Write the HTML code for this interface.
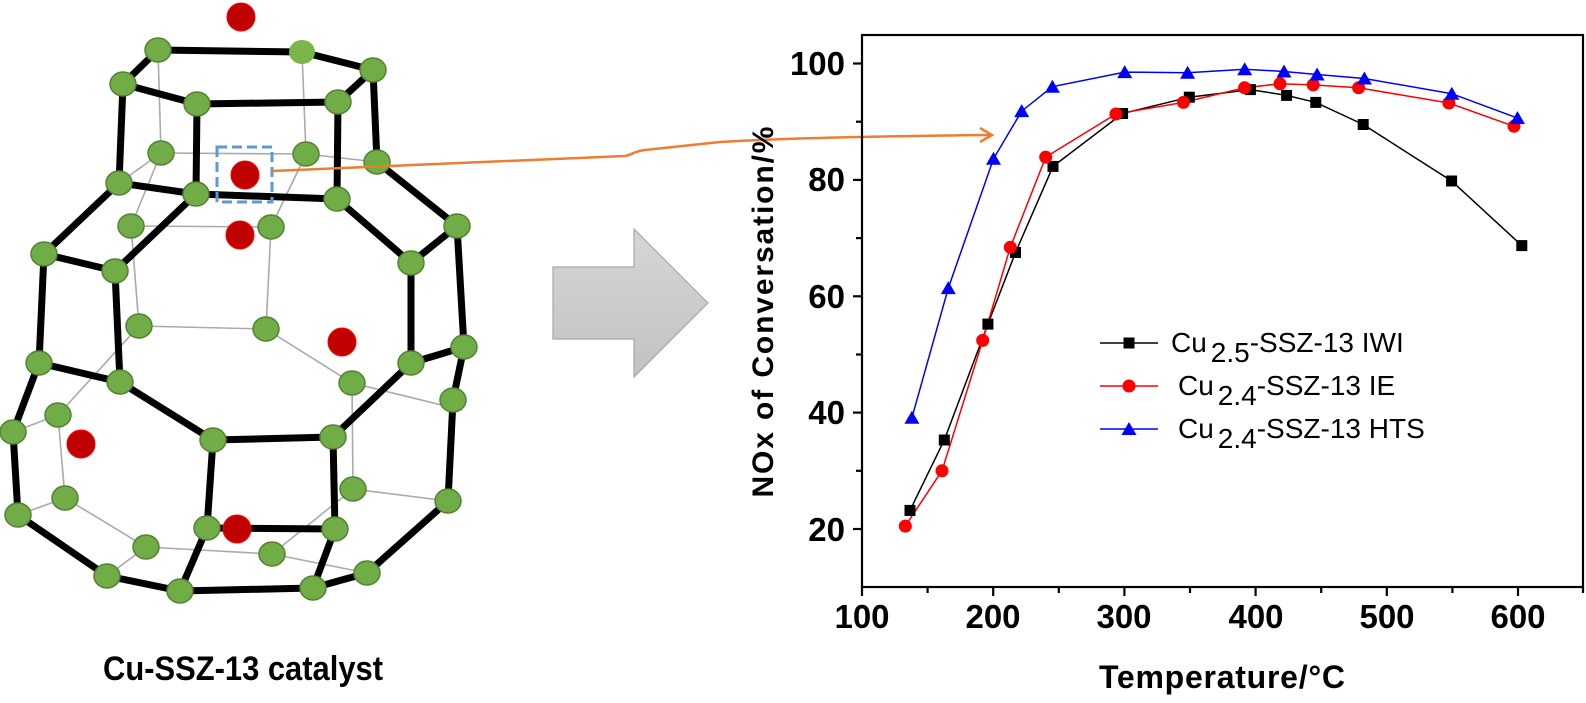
<!DOCTYPE html>
<html><head><meta charset="utf-8"><style>html,body{margin:0;padding:0;background:#fff}svg{display:block}</style></head>
<body>
<svg width="1586" height="703" viewBox="0 0 1586 703" xmlns="http://www.w3.org/2000/svg">
<defs>
<linearGradient id="ga" x1="0" y1="0" x2="0" y2="1"><stop offset="0" stop-color="#d6d6d6"/><stop offset="1" stop-color="#c2c2c2"/></linearGradient>
</defs>
<!-- thin gray edges -->
<g stroke="#aaa" stroke-width="1.6" fill="none">
<line x1="158" y1="50" x2="161" y2="153"/><line x1="302" y1="52" x2="306" y2="154"/>
<line x1="161" y1="153" x2="306" y2="154"/><line x1="161" y1="153" x2="119" y2="183"/>
<line x1="306" y1="154" x2="377" y2="162"/><line x1="161" y1="153" x2="131" y2="226"/>
<line x1="306" y1="154" x2="271" y2="227"/><line x1="131" y1="226" x2="271" y2="227"/>
<line x1="131" y1="226" x2="139" y2="326"/><line x1="271" y1="227" x2="266" y2="329"/>
<line x1="139" y1="326" x2="266" y2="329"/><line x1="266" y1="329" x2="352" y2="383"/>
<line x1="139" y1="326" x2="58" y2="415"/><line x1="58" y1="415" x2="13" y2="432"/>
<line x1="58" y1="415" x2="65" y2="498"/><line x1="65" y1="498" x2="18" y2="515"/>
<line x1="65" y1="498" x2="146" y2="547"/><line x1="146" y1="547" x2="272" y2="554"/>
<line x1="146" y1="547" x2="107" y2="576"/><line x1="272" y1="554" x2="353" y2="489"/>
<line x1="272" y1="554" x2="367" y2="573"/><line x1="353" y1="489" x2="448" y2="501"/>
<line x1="353" y1="489" x2="352" y2="383"/><line x1="352" y1="383" x2="462" y2="410"/>
</g>
<!-- thick black edges -->
<g stroke="#000" stroke-width="7" stroke-linecap="round" fill="none">
<line x1="158" y1="50" x2="302" y2="52"/><line x1="158" y1="50" x2="123" y2="84"/>
<line x1="302" y1="52" x2="373" y2="70"/><line x1="123" y1="84" x2="197" y2="104"/>
<line x1="197" y1="104" x2="338" y2="102"/><line x1="338" y1="102" x2="373" y2="70"/>
<line x1="373" y1="70" x2="377" y2="162"/><line x1="123" y1="84" x2="119" y2="183"/>
<line x1="197" y1="104" x2="196" y2="194"/><line x1="338" y1="102" x2="337" y2="199"/>
<line x1="119" y1="183" x2="196" y2="194"/><line x1="196" y1="194" x2="337" y2="199"/>
<line x1="119" y1="183" x2="44" y2="254"/><line x1="196" y1="194" x2="115" y2="271"/>
<line x1="44" y1="254" x2="115" y2="271"/><line x1="44" y1="254" x2="39" y2="363"/>
<line x1="115" y1="271" x2="120" y2="382"/><line x1="39" y1="363" x2="120" y2="382"/>
<line x1="337" y1="199" x2="411" y2="263"/><line x1="377" y1="162" x2="457" y2="226"/>
<line x1="411" y1="263" x2="457" y2="226"/><line x1="411" y1="263" x2="411" y2="363"/>
<line x1="457" y1="226" x2="464" y2="347"/><line x1="411" y1="363" x2="464" y2="347"/>
<line x1="120" y1="382" x2="213" y2="440"/><line x1="213" y1="440" x2="333" y2="437"/>
<line x1="333" y1="437" x2="411" y2="363"/><line x1="39" y1="363" x2="13" y2="432"/>
<line x1="13" y1="432" x2="18" y2="515"/><line x1="18" y1="515" x2="107" y2="576"/>
<line x1="107" y1="576" x2="180" y2="591"/><line x1="180" y1="591" x2="313" y2="588"/>
<line x1="313" y1="588" x2="367" y2="573"/><line x1="367" y1="573" x2="448" y2="501"/>
<line x1="448" y1="501" x2="453" y2="400"/><line x1="453" y1="400" x2="464" y2="347"/>
<line x1="213" y1="440" x2="207" y2="528"/><line x1="333" y1="437" x2="335" y2="529"/>
<line x1="207" y1="528" x2="335" y2="529"/><line x1="207" y1="528" x2="180" y2="591"/>
<line x1="335" y1="529" x2="313" y2="588"/>
</g>
<!-- nodes -->
<g fill="#70ad47" stroke="#548235" stroke-width="1.5">
<ellipse cx="158" cy="50" rx="13" ry="12"/><ellipse cx="302" cy="52" rx="13" ry="12" fill="#7ab648" stroke="none"/>
<ellipse cx="373" cy="70" rx="13" ry="12"/><ellipse cx="123" cy="84" rx="13" ry="12"/>
<ellipse cx="197" cy="104" rx="13" ry="12"/><ellipse cx="338" cy="102" rx="13" ry="12"/>
<ellipse cx="161" cy="153" rx="13" ry="12"/><ellipse cx="306" cy="154" rx="13" ry="12"/>
<ellipse cx="377" cy="162" rx="13" ry="12"/><ellipse cx="119" cy="183" rx="13" ry="12"/>
<ellipse cx="196" cy="194" rx="13" ry="12"/><ellipse cx="337" cy="199" rx="13" ry="12"/>
<ellipse cx="131" cy="226" rx="13" ry="12"/><ellipse cx="271" cy="227" rx="13" ry="12"/>
<ellipse cx="44" cy="254" rx="13" ry="12"/><ellipse cx="457" cy="226" rx="13" ry="12"/>
<ellipse cx="115" cy="271" rx="13" ry="12"/><ellipse cx="411" cy="263" rx="13" ry="12"/>
<ellipse cx="139" cy="326" rx="13" ry="12"/><ellipse cx="266" cy="329" rx="13" ry="12"/>
<ellipse cx="39" cy="363" rx="13" ry="12"/><ellipse cx="120" cy="382" rx="13" ry="12"/>
<ellipse cx="411" cy="363" rx="13" ry="12"/><ellipse cx="464" cy="347" rx="13" ry="12"/>
<ellipse cx="352" cy="383" rx="13" ry="12"/><ellipse cx="453" cy="400" rx="13" ry="12"/>
<ellipse cx="58" cy="415" rx="13" ry="12"/><ellipse cx="13" cy="432" rx="13" ry="12"/>
<ellipse cx="213" cy="440" rx="13" ry="12"/><ellipse cx="333" cy="437" rx="13" ry="12"/>
<ellipse cx="65" cy="498" rx="13" ry="12"/><ellipse cx="353" cy="489" rx="13" ry="12"/>
<ellipse cx="18" cy="515" rx="13" ry="12"/><ellipse cx="448" cy="501" rx="13" ry="12"/>
<ellipse cx="207" cy="528" rx="13" ry="12"/><ellipse cx="335" cy="529" rx="13" ry="12"/>
<ellipse cx="146" cy="547" rx="13" ry="12"/><ellipse cx="272" cy="554" rx="13" ry="12"/>
<ellipse cx="107" cy="576" rx="13" ry="12"/><ellipse cx="367" cy="573" rx="13" ry="12"/>
<ellipse cx="180" cy="591" rx="13" ry="12"/><ellipse cx="313" cy="588" rx="13" ry="12"/>
</g>
<g fill="#c00000" stroke="#ff0000" stroke-width="1">
<ellipse cx="241" cy="17" rx="14" ry="14"/><ellipse cx="245" cy="175" rx="14" ry="14"/>
<ellipse cx="240" cy="235" rx="14" ry="14"/><ellipse cx="342" cy="342" rx="14" ry="14"/>
<ellipse cx="81" cy="444" rx="14" ry="14"/><ellipse cx="237" cy="529" rx="14" ry="14"/>
</g>
<rect x="217" y="147" width="55" height="55" fill="none" stroke="#5b9bd5" stroke-width="3" stroke-dasharray="10,5"/>
<text x="103" y="680" font-family="Liberation Sans, sans-serif" font-weight="bold" font-size="34" textLength="280" lengthAdjust="spacingAndGlyphs">Cu-SSZ-13 catalyst</text>
<!-- gray arrow -->
<path d="M553,267 L634,267 L634,229 L708,303 L634,377 L634,339 L553,339 Z" fill="url(#ga)" stroke="#a8a8a8" stroke-width="1.2"/>
<!-- orange arrow -->
<path d="M272,171 L625,156 C632,155 634,151 645,150 L720,142 Q800,137 990,135" fill="none" stroke="#ed7d31" stroke-width="2.5"/>
<path d="M980,128 L992,135 L980,142" fill="none" stroke="#ed7d31" stroke-width="2.5"/>
<!-- chart axes -->
<g stroke="#000" stroke-width="2.2" fill="none">
<rect x="862" y="35" width="721" height="552"/>
<line x1="853" y1="63.5" x2="862" y2="63.5"/><line x1="853" y1="179.9" x2="862" y2="179.9"/>
<line x1="853" y1="296.3" x2="862" y2="296.3"/><line x1="853" y1="412.6" x2="862" y2="412.6"/>
<line x1="853" y1="529" x2="862" y2="529"/>
<line x1="856" y1="121.7" x2="862" y2="121.7"/><line x1="856" y1="238.1" x2="862" y2="238.1"/>
<line x1="856" y1="354.5" x2="862" y2="354.5"/><line x1="856" y1="470.8" x2="862" y2="470.8"/>
<line x1="862" y1="587" x2="862" y2="596"/><line x1="993.2" y1="587" x2="993.2" y2="596"/>
<line x1="1124.4" y1="587" x2="1124.4" y2="596"/><line x1="1255.6" y1="587" x2="1255.6" y2="596"/>
<line x1="1386.8" y1="587" x2="1386.8" y2="596"/><line x1="1518" y1="587" x2="1518" y2="596"/>
<line x1="927.6" y1="587" x2="927.6" y2="593"/><line x1="1058.8" y1="587" x2="1058.8" y2="593"/>
<line x1="1190" y1="587" x2="1190" y2="593"/><line x1="1321.2" y1="587" x2="1321.2" y2="593"/>
<line x1="1452.4" y1="587" x2="1452.4" y2="593"/><line x1="1583" y1="587" x2="1583" y2="593"/>
</g>
<g font-family="Liberation Sans, sans-serif" font-weight="bold" font-size="33" fill="#000">
<text x="845" y="75" text-anchor="end">100</text><text x="845" y="191" text-anchor="end">80</text>
<text x="845" y="308" text-anchor="end">60</text><text x="845" y="424" text-anchor="end">40</text>
<text x="845" y="541" text-anchor="end">20</text>
<g text-anchor="middle">
<text x="862" y="628">100</text><text x="993" y="628">200</text><text x="1124" y="628">300</text>
<text x="1256" y="628">400</text><text x="1387" y="628">500</text><text x="1518" y="628">600</text>
</g>
</g>
<text x="1222" y="688" font-family="Liberation Sans, sans-serif" font-weight="bold" font-size="32" text-anchor="middle" textLength="246">Temperature/°C</text>
<text transform="translate(773,312) rotate(-90)" font-family="Liberation Sans, sans-serif" font-weight="bold" font-size="30" text-anchor="middle" textLength="371">NOx of Conversation/%</text>
<!-- series -->
<polyline fill="none" stroke="#000" stroke-width="1.5" points="910,510.4 944.3,440 987.9,324.1 1015.5,252.5 1053,166.4 1122.6,113.5 1189.3,97.2 1250.4,89.6 1286.6,95.4 1315.8,102.4 1363.2,124.5 1451.6,181 1521.8,245.6"/>
<polyline fill="none" stroke="#f00" stroke-width="1.5" points="905.3,526.1 942,470.8 982.7,340.4 1010.3,247.3 1045.7,157.1 1115.9,114 1183.4,102.4 1244.6,87.8 1280,83.8 1313.2,84.9 1358.6,87.8 1448.9,103 1514,126.3"/>
<polyline fill="none" stroke="#00f" stroke-width="1.5" points="911.9,417.8 948.3,288.1 993.5,158.8 1021.7,111.1 1052.4,86.7 1124.7,72.1 1187.6,72.7 1244.7,69.2 1284,71.5 1317.1,74.5 1364.4,78.5 1451.8,93.7 1517.5,118.1"/>
<g fill="#000">
<rect x="904.5" y="504.9" width="11" height="11"/><rect x="938.8" y="434.5" width="11" height="11"/>
<rect x="982.4" y="318.6" width="11" height="11"/><rect x="1010" y="247" width="11" height="11"/>
<rect x="1047.5" y="160.9" width="11" height="11"/><rect x="1117.1" y="108" width="11" height="11"/>
<rect x="1183.8" y="91.7" width="11" height="11"/><rect x="1244.9" y="84.1" width="11" height="11"/>
<rect x="1281.1" y="89.9" width="11" height="11"/><rect x="1310.3" y="96.9" width="11" height="11"/>
<rect x="1357.7" y="119" width="11" height="11"/><rect x="1446.1" y="175.5" width="11" height="11"/>
<rect x="1516.3" y="240.1" width="11" height="11"/>
</g>
<g fill="#f00">
<circle cx="905.3" cy="526.1" r="6.5"/><circle cx="942" cy="470.8" r="6.5"/><circle cx="982.7" cy="340.4" r="6.5"/>
<circle cx="1010.3" cy="247.3" r="6.5"/><circle cx="1045.7" cy="157.1" r="6.5"/><circle cx="1115.9" cy="114" r="6.5"/>
<circle cx="1183.4" cy="102.4" r="6.5"/><circle cx="1244.6" cy="87.8" r="6.5"/><circle cx="1280" cy="83.8" r="6.5"/>
<circle cx="1313.2" cy="84.9" r="6.5"/><circle cx="1358.6" cy="87.8" r="6.5"/><circle cx="1448.9" cy="103" r="6.5"/>
<circle cx="1514" cy="126.3" r="6.5"/>
</g>
<g fill="#00f">
<path d="M911.9,410.8 l7.5,13 h-15 z"/><path d="M948.3,281.1 l7.5,13 h-15 z"/><path d="M993.5,151.8 l7.5,13 h-15 z"/>
<path d="M1021.7,104.1 l7.5,13 h-15 z"/><path d="M1052.4,79.7 l7.5,13 h-15 z"/><path d="M1124.7,65.1 l7.5,13 h-15 z"/>
<path d="M1187.6,65.7 l7.5,13 h-15 z"/><path d="M1244.7,62.2 l7.5,13 h-15 z"/><path d="M1284,64.5 l7.5,13 h-15 z"/>
<path d="M1317.1,67.5 l7.5,13 h-15 z"/><path d="M1364.4,71.5 l7.5,13 h-15 z"/><path d="M1451.8,86.7 l7.5,13 h-15 z"/>
<path d="M1517.5,111.1 l7.5,13 h-15 z"/>
</g>
<!-- legend -->
<line x1="1100" y1="343" x2="1158" y2="343" stroke="#000" stroke-width="1.5"/>
<rect x="1123.5" y="337.5" width="11" height="11" fill="#000"/>
<line x1="1100" y1="386" x2="1158" y2="386" stroke="#f00" stroke-width="1.5"/>
<circle cx="1129" cy="386" r="6.5" fill="#f00"/>
<line x1="1100" y1="429" x2="1158" y2="429" stroke="#00f" stroke-width="1.5"/>
<path d="M1129,422 l7.5,13 h-15 z" fill="#00f"/>
<g font-family="Liberation Sans, sans-serif" font-size="28" fill="#000">
<text x="1171" y="352">Cu<tspan dx="4" dy="10">2.5</tspan><tspan dy="-10">-SSZ-13 IWI</tspan></text>
<text x="1178" y="395">Cu<tspan dx="4" dy="10">2.4</tspan><tspan dy="-10">-SSZ-13 IE</tspan></text>
<text x="1178" y="438">Cu<tspan dx="4" dy="10">2.4</tspan><tspan dy="-10">-SSZ-13 HTS</tspan></text>
</g>
</svg>
</body></html>
